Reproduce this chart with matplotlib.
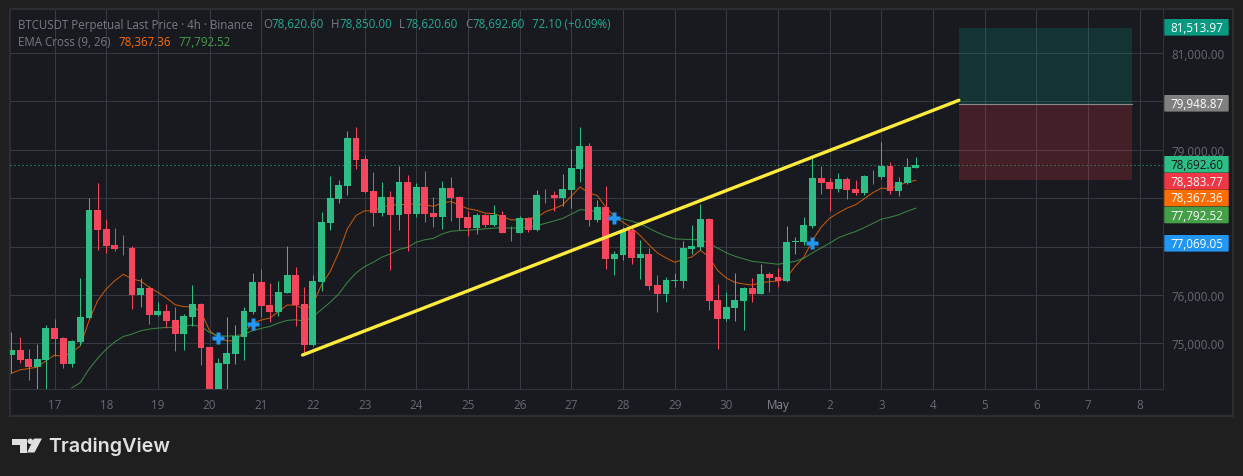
#!/usr/bin/env python3
import matplotlib
matplotlib.use("Agg")
import matplotlib.pyplot as plt
import numpy as np
from matplotlib.patches import Ellipse, FancyBboxPatch, Polygon, Rectangle

W, H = 1243, 477
BG = "#1f1f1f"
PANEL = "#181a20"
GRID = "#363a45"
BORDER = "#2b2d33"
TXT = "#666974"
UP = "#2ebd85"
DOWN = "#f6465d"
FONT = "Open Sans"

opens = [
    74757, 74860, 74674, 74509, 74654, 75316, 75109, 74571, 75026, 75523,
    77759, 77365, 77034, 76980, 76972, 75999, 76144, 75585, 75668, 75482,
    75192, 75544, 75813, 74923, 73950, 74571, 74778, 75130, 75647, 76268,
    75792, 75647, 76040, 76413, 75813, 74964, 76268, 77489, 77986, 78255,
    79249, 78814, 78152, 77696, 78028, 77655, 78338, 77676, 78235, 77696,
    77614, 78214, 78028, 77614, 77386, 77655, 77448, 77655, 77303, 77282,
    77593, 77345, 78069, 78069, 78007, 78172, 78607, 79083, 77552, 77821,
    76744, 76827, 77345, 76765, 76848, 76206, 76020, 76296, 76289, 76951,
    76993, 77572, 75896, 75502, 75730, 75875, 76144, 76020, 76434, 76372,
    76289, 77100, 77096, 77427, 78421, 78338, 78193, 78400, 78193, 78110,
    78462, 78442, 78669, 78152, 78317, 78620.60,
]
highs = [
    75226, 75123, 74881, 74985, 75378, 75502, 75137, 75074, 76351, 78000,
    78317, 77572, 77386, 77241, 77013, 76351, 76178, 75854, 75813, 75751,
    75606, 76206, 75833, 74923, 74695, 75544, 75378, 75751, 76454, 76537,
    76247, 76289, 77013, 76579, 76165, 76413, 77717, 78462, 78380, 79394,
    79477, 78897, 78545, 78338, 78152, 78669, 78483, 78317, 78566, 78028,
    78359, 78442, 78048, 77738, 77696, 77670, 77862, 77738, 77427, 77634,
    77614, 78172, 78193, 78152, 78503, 79021, 79477, 79145, 77959, 78255,
    76910, 77400, 77448, 77138, 76972, 76413, 76372, 76454, 77117, 77448,
    77883, 77585, 76227, 76061, 76454, 76165, 76351, 76641, 76475, 76558,
    77427, 77200, 77614, 78897, 78669, 78421, 78524, 78442, 78380, 78483,
    78586, 79166, 78752, 78442, 78835, 78850,
]
lows = [
    74398, 74591, 74246, 74000, 73950, 74743, 74495, 74509, 74960, 75500,
    76930, 76868, 76910, 76827, 75709, 75751, 75399, 75570, 75316, 74840,
    74860, 75357, 74550, 73900, 73900, 73950, 74571, 74654, 75600, 75544,
    75440, 75564, 76040, 75357, 74778, 74950, 76082, 77345, 77903, 78069,
    78607, 78100, 77427, 77634, 76517, 77345, 76910, 77600, 77510, 77407,
    77365, 77531, 77345, 77220, 77262, 77407, 77434, 77270, 77117, 77270,
    77303, 77330, 77903, 77738, 77841, 77800, 78338, 77427, 77510, 76537,
    76413, 76730, 76641, 76330, 76102, 75647, 75854, 76165, 76144, 76848,
    76930, 75688, 74881, 75460, 75461, 75275, 75854, 76010, 76061, 76165,
    76268, 76848, 77034, 77386, 78090, 77738, 78131, 77986, 78069, 78069,
    78297, 78400, 78090, 78048, 78297, 78620.60,
]
closes = [
    74860, 74654, 74509, 74674, 75316, 75088, 74571, 75047, 75544, 77759,
    77345, 77013, 76951, 76965, 75999, 76144, 75585, 75668, 75461, 75192,
    75564, 75813, 74902, 74000, 74591, 74798, 75150, 75668, 76268, 75771,
    75647, 76061, 76413, 75792, 74964, 76289, 77510, 78007, 78276, 79249,
    78794, 78131, 77696, 78028, 77655, 78338, 77676, 78235, 77676, 77614,
    78214, 78007, 77593, 77386, 77655, 77448, 77655, 77282, 77295, 77593,
    77345, 78069, 78062, 78007, 78193, 78628, 79083, 77552, 77821, 76744,
    76848, 77345, 76765, 76848, 76185, 76020, 76310, 76304, 76972, 77013,
    77572, 75875, 75502, 75751, 75896, 76144, 76020, 76434, 76351, 76289,
    77096, 77110, 77448, 78421, 78317, 78193, 78400, 78172, 78110, 78462,
    78455, 78669, 78152, 78338, 78649, 78692.60,
]
ema_fast = [
    74384, 74453, 74481, 74509, 74640, 74757, 74729, 74812, 74950, 75468,
    75882, 76123, 76296, 76427, 76330, 76289, 76158, 76054, 75937, 75799,
    75758, 75758, 75654, 75261, 75123, 75054, 75054, 75226, 75420, 75482,
    75523, 75654, 75792, 75792, 75695, 75810, 76213, 76483, 76876, 77365,
    77641, 77738, 77738, 77810, 77860, 77860, 77875, 77880, 77860, 77830,
    77900, 77930, 77860, 77780, 77750, 77690, 77680, 77620, 77550, 77555,
    77580, 77600, 77720, 77780, 77860, 78040, 78230, 78110, 78055, 77815,
    77620, 77503, 77386, 77227, 77040, 76868, 76765, 76675, 76730, 76786,
    76924, 76780, 76503, 76350, 76260, 76227, 76206, 76250, 76275, 76290,
    76365, 76592, 76780, 77124, 77400, 77586, 77696, 77793, 77862, 77986,
    78110, 78207, 78193, 78262, 78331, 78367.36,
]
# slow EMA only comes into view from the 8th candle
ema_slow = [
    74080, 74190, 74467, 74690, 74880, 75033, 75143, 75192, 75260, 75295,
    75316, 75330, 75330, 75350, 75378, 75350, 75226, 75157, 75150, 75157,
    75192, 75261, 75310, 75350, 75420, 75475, 75488, 75460, 75550, 75700,
    75850, 76020, 76260, 76455, 76585, 76675, 76780, 76850, 76940, 76985,
    77090, 77140, 77170, 77260, 77315, 77330, 77335, 77350, 77365, 77380,
    77390, 77380, 77390, 77400, 77430, 77480, 77530, 77580, 77670, 77760,
    77755, 77720, 77670, 77605, 77570, 77525, 77470, 77380, 77290, 77215,
    77160, 77150, 77145, 77138, 77075, 76965, 76870, 76800, 76745, 76695,
    76675, 76655, 76635, 76660, 76695, 76760, 76870, 76970, 77070, 77180,
    77250, 77310, 77390, 77475, 77565, 77605, 77655, 77730, 77792.52,
]

cross_bars = [19, 23, 65, 88]
cross_prices = [75105, 75400, 77590, 77069.05]

trend_bars = [28.8, 105.0]
trend_prices = [74760, 80020]

pos_bars = [105.0, 125.1]
pos_target = 81513.97
pos_entry = 79948.87
pos_stop = 78383.77
last_price = 78692.60

day_ticks = [0, 6, 12, 18, 24, 30, 36, 42, 48, 54, 60, 66, 72, 78, 84, 90, 96,
             102, 108, 114, 120, 126]
day_labels = ["17", "18", "19", "20", "21", "22", "23", "24", "25", "26", "27",
              "28", "29", "30", "May", "2", "3", "4", "5", "6", "7", "8"]
price_ticks = [75000, 76000, 77000, 78000, 79000, 80000, 81000]
# the other levels sit behind the price badges
price_tick_labels = ["75,000.00", "76,000.00", "", "", "79,000.00", "", "81,000.00"]

badge_texts = ["81,513.97", "79,948.87", "78,692.60", "78,383.77", "78,367.36",
               "77,792.52", "77,069.05"]
badge_colors = ["#089981", "#808080", "#2ebd85", "#f23645", "#ff6d00", "#43a047",
                "#2196f3"]
badge_text_colors = ["white", "white", "#10141a", "white", "white", "white", "white"]
badge_rows = [28.3, 104.3, 165.3, 182.2, 199, 216, 244.3]

YMIN, YMAX = 74058, 81885


def fx(x):
    return x / W


def fy(y):
    return 1 - y / H


plt.rcParams["font.family"] = [FONT, "DejaVu Sans"]
fig = plt.figure(figsize=(W / 100, H / 100), dpi=100, facecolor=BG)

# panel + outer frame
fig.add_artist(Rectangle((fx(9.5), fy(416.5)), (1232.5 - 9.5) / W, 406.5 / H,
                         transform=fig.transFigure, facecolor=PANEL, edgecolor=BORDER,
                         lw=1.6, zorder=-5))

ax = fig.add_axes([fx(10), fy(390), (1163 - 10) / W, (390 - 11) / H])
ax.patch.set_alpha(0)
ax.set_xlim(-5.17, 128.7)
ax.set_ylim(YMIN, YMAX)

bars = np.arange(len(opens)) - 5
opens_a, highs_a, lows_a, closes_a = map(np.array, (opens, highs, lows, closes))
is_up = closes_a >= opens_a
colors = np.where(is_up, UP, DOWN)

ax.set_axisbelow(True)
ax.grid(True, color=GRID, lw=0.72)

ax.plot(bars, ema_fast, color="#ff6d00", lw=0.75, alpha=0.75, zorder=2)
ax.plot(bars[7:], ema_slow, color="#43a047", lw=0.75, alpha=0.8, zorder=2)

ax.vlines(bars, lows_a, highs_a, colors=colors, lw=0.72, zorder=3)
ax.bar(bars, np.maximum(np.abs(closes_a - opens_a), 12), bottom=np.minimum(opens_a, closes_a),
       width=0.8, color=colors, linewidth=0, zorder=4)

ax.axhline(last_price, color=UP, lw=0.72, ls=(0, (1, 3)), zorder=5)

yspan = YMAX - YMIN
ax.axvspan(pos_bars[0], pos_bars[1], ymin=(pos_entry - YMIN) / yspan,
           ymax=(pos_target - YMIN) / yspan, facecolor="#089981", alpha=0.2, lw=0, zorder=5)
ax.axvspan(pos_bars[0], pos_bars[1], ymin=(pos_stop - YMIN) / yspan,
           ymax=(pos_entry - YMIN) / yspan, facecolor="#f23645", alpha=0.2, lw=0, zorder=5)
ax.plot(pos_bars, [pos_entry, pos_entry], color="#8a8a8a", lw=0.8, zorder=6)

ax.plot(trend_bars, trend_prices, color="#ffeb3b", lw=2.4, solid_capstyle="round", zorder=7)
ax.plot(cross_bars, cross_prices, ls="none", marker="P", ms=8.5, mfc="#2196f3", mec="none",
        zorder=8)

ax.set_xticks(day_ticks)
ax.set_xticklabels(day_labels)
ax.xaxis.set_tick_params(length=0, pad=6.5, labelsize=8.4, labelcolor=TXT)
may_label = ax.get_xticklabels()[day_labels.index("May")]
may_label.set_color("#84878f")

ax.yaxis.tick_right()
ax.set_yticks(price_ticks)
ax.set_yticklabels(price_tick_labels)
ax.yaxis.set_tick_params(length=0, pad=6, labelsize=8.4, labelcolor=TXT)
for s in ["top", "left"]:
    ax.spines[s].set_visible(False)
for s in ["right", "bottom"]:
    ax.spines[s].set_color("#2f323b")
    ax.spines[s].set_linewidth(0.8)

# price badges, stacked by hand like the platform does
for label, col, tcol, row in zip(badge_texts, badge_colors, badge_text_colors, badge_rows):
    fig.add_artist(FancyBboxPatch((fx(1164.3), fy(row + 8.3)), 64.4 / W, 16.6 / H,
                                  boxstyle="round,pad=0,rounding_size=0.001",
                                  transform=fig.transFigure, facecolor=col, edgecolor="none",
                                  zorder=10))
    fig.text(fx(1197), fy(row), label, color=tcol, fontsize=8.4, ha="center", va="center",
             zorder=11)

# legend rows
row1 = [
    ("BTCUSDT Perpetual Last Price · 4h · Binance", 18, "#787b86"),
    ("O", 263, "#787b86"), ("78,620.60", 271, "#22ab94"),
    ("H", 331, "#787b86"), ("78,850.00", 339, "#22ab94"),
    ("L", 399, "#787b86"), ("78,620.60", 405, "#22ab94"),
    ("C", 465, "#787b86"), ("78,692.60", 472, "#22ab94"),
    ("72.10 (+0.09%)", 532, "#22ab94"),
]
for label, x, col in row1:
    fig.text(fx(x), fy(25), label, color=col, fontsize=8.3, ha="left", va="center", zorder=11)
row2 = [("EMA Cross (9, 26)", 18, "#787b86"), ("78,367.36", 118, "#ff6d00"),
        ("77,792.52", 178, "#43a047")]
for label, x, col in row2:
    fig.text(fx(x), fy(42), label, color=col, fontsize=8.3, ha="left", va="center", zorder=11)

# TradingView mark
LOGO = "#e0e0e0"
logo_shapes = [
    [(12, 439.5), (26.7, 439.5), (26.7, 453.5), (19.5, 453.5), (19.5, 445.5), (12, 445.5)],
    [(34, 439.5), (42, 439.5), (34.5, 453.5), (27, 453.5)],
]
for pts in logo_shapes:
    fig.add_artist(Polygon([(fx(x), fy(y)) for x, y in pts], closed=True,
                           transform=fig.transFigure, facecolor=LOGO, edgecolor="none"))
fig.add_artist(Ellipse((fx(30.3), fy(442.3)), 5.6 / W, 5.6 / H, transform=fig.transFigure,
                       facecolor=LOGO, edgecolor="none"))
fig.text(fx(48.5), fy(447), "TradingView", color=LOGO, fontsize=14.2, fontweight="semibold",
         family=["Inter", "DejaVu Sans"], ha="left", va="center")

fig.savefig("out.png", dpi=100, facecolor=BG)
